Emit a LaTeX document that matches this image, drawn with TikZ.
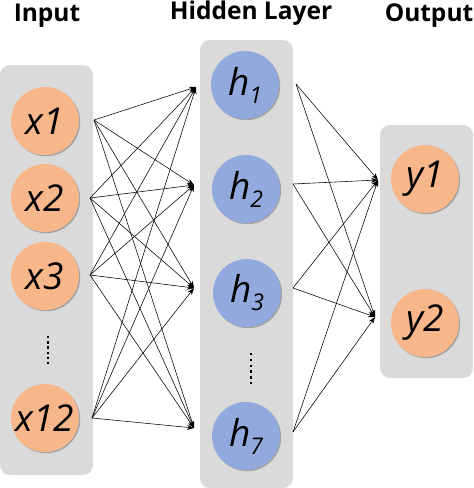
\documentclass[tikz,border=0pt]{standalone}
\usepackage{fontspec}
\setmainfont{Open Sans}
\usetikzlibrary{arrows.meta,shadows}
\definecolor{panel}{HTML}{DADADA}
\definecolor{orng}{HTML}{F7B78A}
\definecolor{blu}{HTML}{91A9DC}
\newcommand{\hsub}[1]{h\raisebox{-8pt}{\fontsize{23}{23}\selectfont #1}}
\begin{document}
\begin{tikzpicture}[x=1pt,y=-1pt,
  panelbox/.style={fill=panel, rounded corners=10pt},
  neuron/.style={circle, minimum size=68pt, inner sep=0pt,
    drop shadow={shadow xshift=1.2pt, shadow yshift=-1.2pt, opacity=0.25, fill=black},
    font=\fontsize{37}{37}\selectfont\itshape},
  title/.style={font=\fontsize{24.5}{24.5}\selectfont\bfseries, anchor=base},
  conn/.style={line width=0.55pt, -{Stealth[length=7pt,width=5pt]}},
  dotmark/.style={fill=black}
]
\useasboundingbox (0,0) rectangle (474,488);
% panels
\fill[panelbox] (0,65) rectangle (93,475);
\fill[panelbox] (200,40) rectangle (293,488);
\fill[panelbox] (380,125) rectangle (473,378);
% titles
\node[title] (tin) at (47,21) {Input};
\node[title] (thid) at (251,19) {Hidden Layer};
\node[title] (tout) at (429,21) {Output};
% input neurons
\node[neuron, fill=orng] (x1) at (45,121) {x1};
\node[neuron, fill=orng] (x2) at (45,198) {x2};
\node[neuron, fill=orng] (x3) at (45,276) {x3};
\node[neuron, fill=orng] (x12) at (45,418) {x12};
% hidden neurons
\node[neuron, fill=blu] (h1) at (245,85) {\hsub{1}};
\node[neuron, fill=blu] (h2) at (246,189) {\hsub{2}};
\node[neuron, fill=blu] (h3) at (247,293) {\hsub{3}};
\node[neuron, fill=blu] (h7) at (246,436) {\hsub{7}};
% output neurons
\node[neuron, fill=orng] (y1) at (425,179) {y1};
\node[neuron, fill=orng] (y2) at (425,323) {y2};
% ellipsis dots
\foreach \i in {0,...,5} {
  \fill[dotmark] (47,{336+5.2*\i}) rectangle ++(2.4,2.4);
  \fill[dotmark] (250,{353+5.8*\i}) rectangle ++(2.4,2.4);
}
% connector end points
\coordinate (x1o) at (94,120);
\coordinate (x2o) at (90,198);
\coordinate (x3o) at (90,275);
\coordinate (x12o) at (92,418);
\coordinate (h1i) at (196,87);
\coordinate (h2i) at (194,185);
\coordinate (h3i) at (194,288);
\coordinate (h7i) at (194,428);
\coordinate (h1o) at (296,84);
\coordinate (h2o) at (293,184);
\coordinate (h3o) at (293,288);
\coordinate (h7o) at (293,432);
\coordinate (y1i) at (378,180);
\coordinate (y2i) at (375,317);
% connectors
\foreach \a in {x1,x2,x3,x12}
  \foreach \b in {h1,h2,h3,h7}
    \draw[conn] (\a o) -- (\b i);
\foreach \a in {h1,h2,h3,h7}
  \foreach \b in {y1,y2}
    \draw[conn] (\a o) -- (\b i);
\end{tikzpicture}
\end{document}
